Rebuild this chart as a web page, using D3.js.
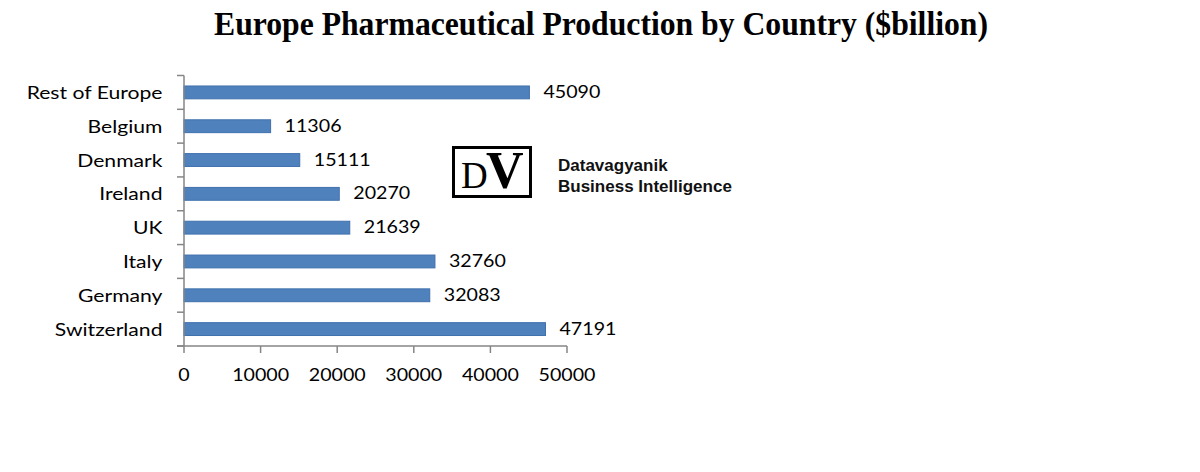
<!DOCTYPE html>
<html><head><meta charset="utf-8">
<script src="https://cdn.jsdelivr.net/npm/d3@7"></script>
<style>body{margin:0;background:#fff}svg{display:block}</style>
</head><body>
<svg id="c" width="1200" height="472"></svg>
<script>
const categories = ["Rest of Europe","Belgium","Denmark","Ireland","UK","Italy","Germany","Switzerland"];
const values = [45090, 11306, 15111, 20270, 21639, 32760, 32083, 47191];
const xTicks = [0, 10000, 20000, 30000, 40000, 50000];
const title = "Europe Pharmaceutical Production by Country ($billion)";

const svg = d3.select("#c");
const x = d3.scaleLinear().domain([0, 50000]).range([184, 567]);
const y = d3.scaleBand().domain(categories).range([75.5, 346]).paddingInner(0.62).paddingOuter(0.31);
const yAxisBand = d3.scaleBand().domain(categories).range([75.5, 346]);
const FONT = "Lato, Open Sans, sans-serif";

svg.append("text").attr("x", 601).attr("y", 34.5).attr("text-anchor", "middle")
  .attr("font-family", "Liberation Serif, Times New Roman, serif").attr("font-weight", "bold")
  .attr("font-size", 33).attr("textLength", 774).attr("lengthAdjust", "spacingAndGlyphs")
  .attr("fill", "#000").text(title);

// bars
svg.selectAll("rect.bar").data(categories).join("rect").attr("class","bar")
  .attr("x", x(0)).attr("y", d => y(d))
  .attr("width", (d,i) => x(values[i]) - x(0)).attr("height", y.bandwidth())
  .attr("fill", "#4F81BD").attr("stroke", "#3F70AD").attr("stroke-width", 1);

// value labels
svg.selectAll("g.val").data(categories).join("g").attr("class","val")
  .attr("transform", (d,i) => `translate(${x(values[i]) + 14},${y(d) + y.bandwidth()/2 + 5.6}) scale(1.19,1)`)
  .append("text").attr("font-family", FONT).attr("font-size", 16.5)
  .attr("fill", "#000").text((d,i) => values[i]);

const axisColor = "#868686";
// y axis line and ticks
svg.append("line").attr("x1", x(0)).attr("x2", x(0)).attr("y1", 75.5).attr("y2", 346)
  .attr("stroke", axisColor).attr("stroke-width", 1.5);
const yt = categories.map(c => yAxisBand(c)).concat([346]);
svg.selectAll("line.yt").data(yt).join("line").attr("class","yt")
  .attr("x1", 177).attr("x2", x(0)).attr("y1", d => d).attr("y2", d => d)
  .attr("stroke", axisColor).attr("stroke-width", 1.5);
svg.selectAll("g.cat").data(categories).join("g").attr("class","cat")
  .attr("transform", d => `translate(162.5,${yAxisBand(d) + yAxisBand.bandwidth()/2 + 6.5}) scale(1.23,1)`)
  .append("text").attr("text-anchor","end").attr("font-family", FONT).attr("font-size", 17.2)
  .attr("fill","#000").text(d => d);

// x axis
svg.append("line").attr("x1", 177).attr("x2", x(50000)).attr("y1", 346).attr("y2", 346)
  .attr("stroke", axisColor).attr("stroke-width", 1.5);
svg.selectAll("line.xt").data(xTicks).join("line").attr("class","xt")
  .attr("x1", d => x(d)).attr("x2", d => x(d)).attr("y1", 346).attr("y2", 353)
  .attr("stroke", axisColor).attr("stroke-width", 1.5);
svg.selectAll("g.xl").data(xTicks).join("g").attr("class","xl")
  .attr("transform", d => `translate(${x(d)},380.7) scale(1.19,1)`)
  .append("text").attr("text-anchor","middle")
  .attr("font-family", FONT).attr("font-size", 16.5)
  .attr("fill","#000").text(d => d);

// logo
const g = svg.append("g");
g.append("rect").attr("x", 453.5).attr("y", 147.5).attr("width", 77).attr("height", 49)
  .attr("fill","#fff").attr("stroke","#000").attr("stroke-width", 3);
g.append("text").attr("x", 461).attr("y", 188).attr("font-family","Liberation Serif, serif")
  .attr("font-size", 37).attr("fill","#000").text("D");
g.append("text").attr("x", 486).attr("y", 188).attr("font-family","Liberation Serif, serif")
  .attr("font-weight","bold").attr("font-size", 52).attr("fill","#000").text("V");
g.append("text").attr("x", 558).attr("y", 171).attr("font-family","Liberation Sans, Arial, sans-serif")
  .attr("font-weight","bold").attr("font-size", 17).attr("fill","#111").text("Datavagyanik");
g.append("text").attr("x", 558).attr("y", 192).attr("font-family","Liberation Sans, Arial, sans-serif")
  .attr("font-weight","bold").attr("font-size", 17).attr("fill","#111").text("Business Intelligence");
</script>
</body></html>
